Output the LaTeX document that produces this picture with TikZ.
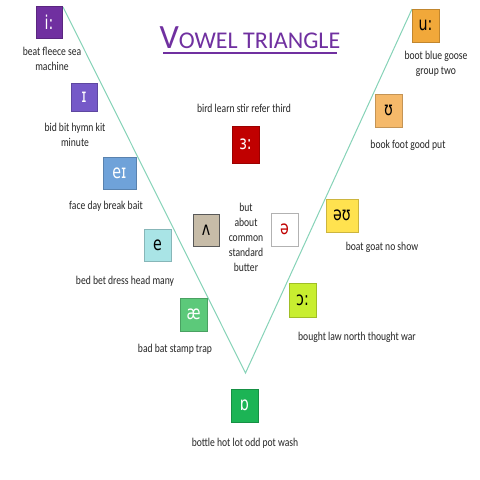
\documentclass[tikz,border=0pt]{standalone}
\usepackage{fontspec}
\setmainfont{Carlito}
\newfontfamily\ipafont[FakeStretch=0.75]{DejaVu Sans}
\newfontfamily\labfont[FakeStretch=0.8]{Carlito}
\definecolor{vline}{HTML}{86D3B8}
\definecolor{cI}{HTML}{7030A0}
\definecolor{cIh}{HTML}{7559C8}
\definecolor{cEI}{HTML}{6FA2D9}
\definecolor{cE}{HTML}{A9E4E6}
\definecolor{cAE}{HTML}{5CC97A}
\definecolor{cV}{HTML}{C7BCA8}
\definecolor{cOU}{HTML}{FFE24F}
\definecolor{cOO}{HTML}{C8EE30}
\definecolor{cO}{HTML}{1CB455}
\definecolor{cU}{HTML}{F1A83A}
\definecolor{cUh}{HTML}{F5B96A}
\definecolor{cER}{HTML}{C00000}
\definecolor{ctitle}{HTML}{7030A0}
\definecolor{ctext}{HTML}{262626}
\begin{document}
\begin{tikzpicture}[x=1pt,y=-1pt,
  sym/.style={draw=#1!80!black, line width=0.4pt, fill=#1, inner sep=0pt, minimum width=27pt, minimum height=33pt, font=\ipafont\fontsize{19}{19}\selectfont},
  lab/.style={align=center, text=ctext, inner sep=0pt, font=\labfont\fontsize{12}{15}\selectfont},
  vl/.style={draw=vline, line width=1pt}]
\useasboundingbox[fill=white] (0,0) rectangle (480,480);
% V lines
\coordinate (tl) at (63,7);
\coordinate (bv) at (245.5,373);
\coordinate (tr) at (412,9);
\draw[vl] (tl) -- (bv) -- (tr);
% title
\node[text=ctitle, inner sep=0pt, anchor=base] (title) at (250,48) {\fontsize{34}{34}\selectfont V\fontsize{24}{24}\selectfont OWEL TRIANGLE};
\coordinate (ul1) at (163,53);
\coordinate (ul2) at (337,53);
\draw[draw=ctitle, line width=1.8pt] (ul1) -- (ul2);
% boxes
\node[sym=cI, minimum width=26pt, minimum height=32pt, text=white] (ii) at (49,22) {i:};
\node[sym=cIh, minimum width=26pt, minimum height=28pt, text=white] (ih) at (84,97) {ɪ};
\node[sym=cEI, minimum width=33pt, minimum height=32pt, text=white] (ei) at (119.5,173) {eɪ};
\node[sym=cE, minimum height=32pt, text=black] (e) at (157.5,245.5) {e};
\node[sym=cAE, text=white] (ae) at (193.5,314.5) {æ};
\node[sym=cV, draw=black!65, line width=0.8pt, minimum width=26pt, minimum height=32pt, text=black] (uh) at (206,230) {ʌ};
\node[sym=white, draw=black!30, text=cER] (schwa) at (284.5,229.5) {ə};
\node[sym=cOU, minimum width=32pt, text=black] (ou) at (342,215.5) {əʊ};
\node[sym=cOO, minimum height=34pt, text=black] (oo) at (302.5,300) {ɔ:};
\node[sym=cO, text=white] (o) at (244.5,405.5) {ɒ};
\node[sym=cU, text=black] (uu) at (425.5,25.5) {u:};
\node[sym=cUh, text=black] (u) at (388.5,110.5) {ʊ};
\node[sym=cER, minimum height=37pt, text=white] (er) at (245.5,144.5) {ɜ:};
% labels
\node[lab] (lii) at (52,59) {beat fleece sea\\machine};
\node[lab] (lih) at (75,135) {bid bit hymn kit\\minute};
\node[lab] (lei) at (106,206) {face day break bait};
\node[lab] (le) at (125,281) {bed bet dress head many};
\node[lab] (lae) at (175,349) {bad bat stamp trap};
\node[lab] (luh) at (246,237) {but\\about\\common\\standard\\butter};
\node[lab] (ler) at (244,108) {bird learn stir refer third};
\node[lab] (lou) at (382,247) {boat goat no show};
\node[lab] (loo) at (357,337) {bought law north thought war};
\node[lab] (lo) at (245,443) {bottle hot lot odd pot wash};
\node[lab] (luu) at (436,64) {boot blue goose\\group two};
\node[lab] (lu) at (408,145) {book foot good put};
\end{tikzpicture}
\end{document}
